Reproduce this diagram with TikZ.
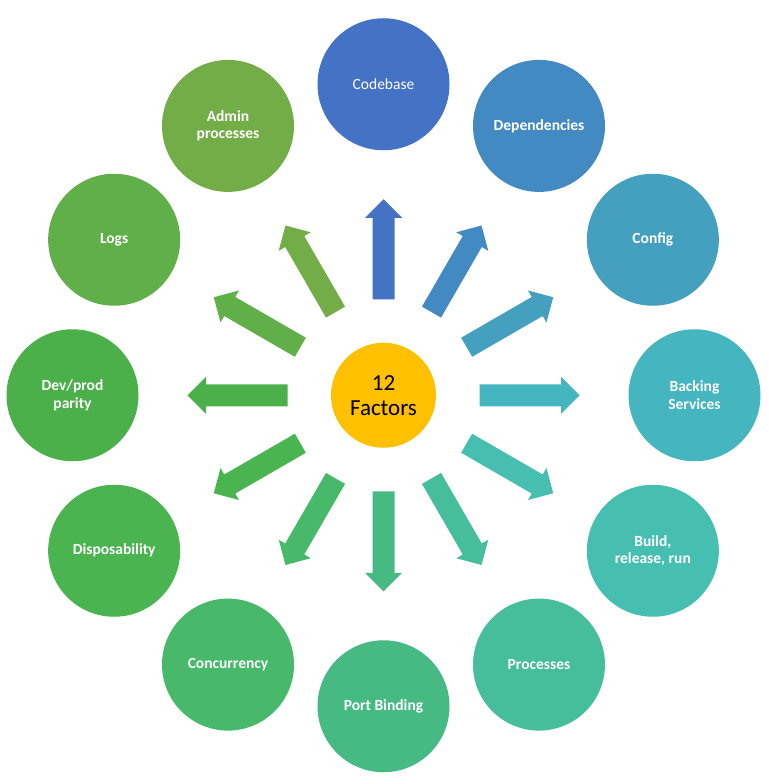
\documentclass[tikz,border=0pt]{standalone}
\usepackage{fontspec}
\setmainfont{Carlito}
\usetikzlibrary{calc}
\definecolor{cA}{HTML}{4472C4}
\definecolor{cB}{HTML}{438AC3}
\definecolor{cC}{HTML}{45A0C0}
\definecolor{cD}{HTML}{45B5BF}
\definecolor{cE}{HTML}{46BFB1}
\definecolor{cF}{HTML}{46BD9B}
\definecolor{cG}{HTML}{47BA84}
\definecolor{cH}{HTML}{48B86B}
\definecolor{cI}{HTML}{4AB451}
\definecolor{cJ}{HTML}{4CB04A}
\definecolor{cK}{HTML}{60AF48}
\definecolor{cL}{HTML}{72AD47}
\definecolor{hub}{HTML}{FFC000}
\tikzset{
  factor/.style={circle, minimum size=132pt, inner sep=0pt, text=white,
    font=\fontsize{15.5}{17.5}\selectfont\bfseries, align=center},
  hubnode/.style={circle, fill=hub, minimum size=105pt, inner sep=0pt,
    font=\fontsize{23}{25}\selectfont, align=center, text=black},
}
\begin{document}
\begin{tikzpicture}[x=1pt,y=-1pt]
\useasboundingbox (0,0) rectangle (768,784);
\coordinate (C) at (383.5,395.25);
\node[hubnode] (hub) at (C) {12\\Factors};
\foreach \ang/\col/\nm/\txt in {
  -90/cA/codebase/{\mdseries Codebase},
  -60/cB/deps/Dependencies,
  -30/cC/config/Config,
  0/cD/backing/{Backing\\Services},
  30/cE/build/{Build,\\release, run},
  60/cF/procs/Processes,
  90/cG/port/Port Binding,
  120/cH/conc/Concurrency,
  150/cI/disp/Disposability,
  180/cJ/devprod/{Dev/prod\\parity},
  210/cK/logs/Logs,
  240/cL/admin/{Admin\\processes}}{
  \node[factor, fill=\col] (\nm) at ($(C)+(\ang:311)$) {\txt};
  \fill[\col, shift={(C)}, rotate=-\ang]
    (96,-11) -- (177.5,-11) -- (177.5,-18.5) -- (196,0) -- (177.5,18.5)
    -- (177.5,11) -- (96,11) -- cycle;
}
\end{tikzpicture}
\end{document}
